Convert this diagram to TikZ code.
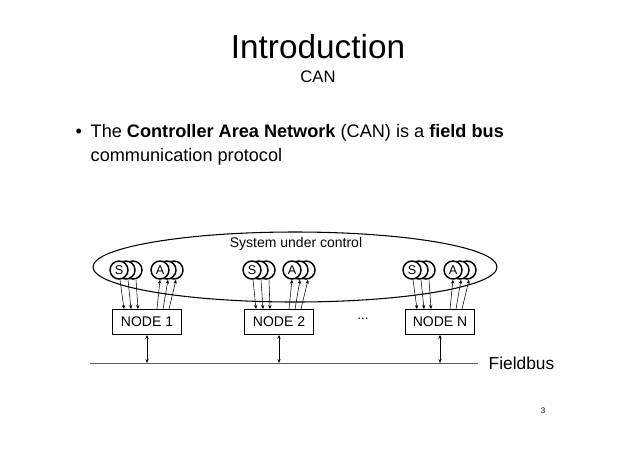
\documentclass[tikz,border=0pt]{standalone}
\usepackage{fontspec}
\setmainfont{Liberation Sans}
\usetikzlibrary{arrows.meta,calc}
\begin{document}
\begin{tikzpicture}[x=0.75pt,y=-0.75pt,
  circ/.style={circle,draw,line width=1.1pt,fill=white,minimum size=13.5pt,inner sep=0pt,font=\fontsize{9.5}{10}\selectfont},
  nd/.style={draw,line width=0.9pt,minimum width=52pt,minimum height=18.5pt,inner sep=0pt,font=\fontsize{10.5}{12}\selectfont},
  arr/.style={-{Stealth[length=3pt,width=2.5pt]},line width=0.4pt},
  darr/.style={{Stealth[length=3pt,width=2.5pt]}-{Stealth[length=3pt,width=2.5pt]},line width=0.5pt}]
\useasboundingbox (0,0) rectangle (638,451);
\node (title) at (318,47) {\fontsize{25}{28}\selectfont Introduction};
\node (sub) at (318,77) {\fontsize{12.5}{14}\selectfont CAN};
\node[anchor=west] (bul) at (71,133) {\fontsize{13.6}{15}\selectfont •};
\node[anchor=west,align=left,font=\fontsize{13.6}{18}\selectfont] (txt) at (86,145) {The \textbf{Controller Area Network} (CAN) is a \textbf{field bus}\\communication protocol};
\draw[line width=0.8pt] (295,267) ellipse (202 and 35);
\node (suc) at (296,244) {\fontsize{10.5}{12}\selectfont System under control};
\coordinate (bl) at (90,363); \coordinate (br) at (478,363);
\draw[line width=0.6pt,gray!70!black] (bl) -- (br);
\foreach \i/\sx/\ax/\nx/\lab in {1/119/160/147/NODE 1,2/252/292/279/NODE 2,3/412/453/440/NODE N}{
  \node[nd] (n\i) at (\nx,322) {\lab};
  \node[circ] (s\i c) at (\sx+14,270) {};
  \node[circ] (s\i b) at (\sx+7,270) {};
  \node[circ] (s\i a) at (\sx,270) {S};
  \node[circ] (a\i c) at (\ax+14,270) {};
  \node[circ] (a\i b) at (\ax+7,270) {};
  \node[circ] (a\i a) at (\ax,270) {A};
  \draw[arr] ($(s\i a.south)+(1,0)$) -- ($(n\i.north)+(-23,0)$);
  \draw[arr] ($(s\i b.south)+(2,0)$) -- ($(n\i.north)+(-16,0)$);
  \draw[arr] ($(s\i c.south)+(3,0)$) -- ($(n\i.north)+(-9,0)$);
  \draw[arr] ($(n\i.north)+(10,0)$) -- ($(a\i a.south)+(0,0)$);
  \draw[arr] ($(n\i.north)+(16,0)$) -- ($(a\i b.south)+(1,0)$);
  \draw[arr] ($(n\i.north)+(22,0)$) -- ($(a\i c.south)+(2,0)$);
  \coordinate (b\i) at ($(bl)!(n\i.south)!(br)$);
  \draw[darr] (n\i.south) -- (b\i);
}
\node[anchor=west] (fb) at (484,363) {\fontsize{13}{14}\selectfont Fieldbus};
\node (dots) at (363,319) {\fontsize{10}{12}\selectfont ...};
\node (pg) at (543,411) {\fontsize{6}{7}\selectfont 3};
\end{tikzpicture}
\end{document}
